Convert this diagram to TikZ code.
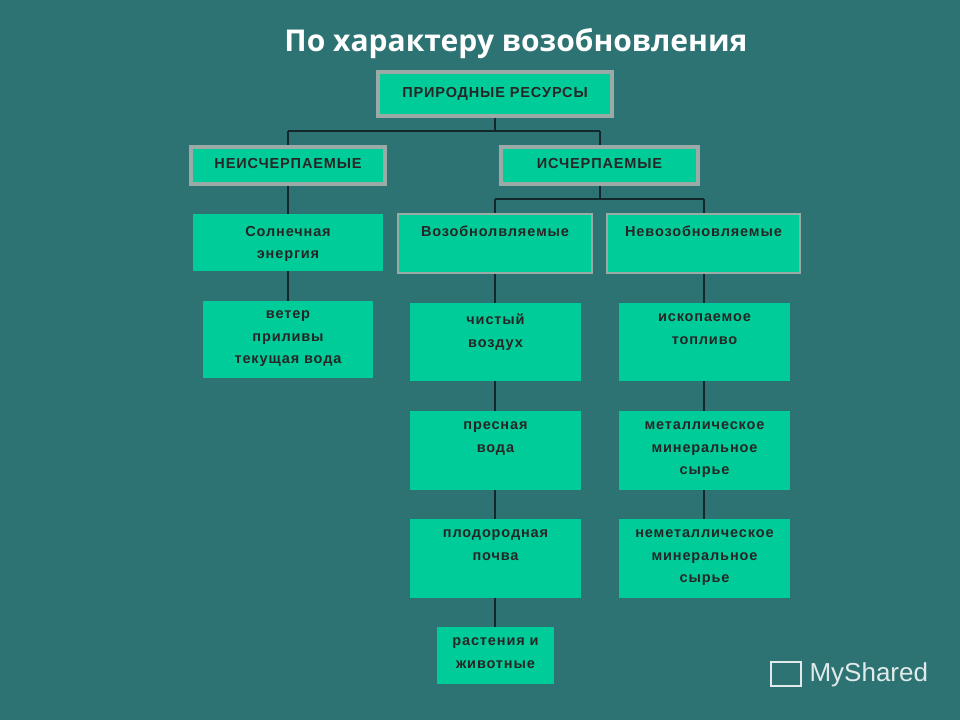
\documentclass[tikz,border=0pt]{standalone}
\usepackage{fontspec}
\setmainfont{Liberation Sans}[LetterSpace=6]
\newfontfamily\titlefont{Open Sans}
\definecolor{bg}{HTML}{2E7373}
\definecolor{boxc}{HTML}{00CC99}
\definecolor{frame}{HTML}{9AAAA6}
\definecolor{ln}{HTML}{13282C}
\begin{document}
\begin{tikzpicture}[x=1pt,y=-1pt,
  box/.style={fill=boxc,draw=none,inner sep=0pt},
  hbox/.style={box,draw=frame,line width=3.5pt},
  sbox/.style={box,draw=frame,line width=1.5pt},
  txt/.style={anchor=north,align=center,font=\bfseries\fontsize{14.5}{22.5}\selectfont,text=black!85,inner sep=0pt},
  conn/.style={draw=ln,line width=1.8pt}]
\fill[bg] (0,0) rectangle (960,720);
\useasboundingbox (0,0) rectangle (960,720);
\node[text=white,font=\titlefont\bfseries\fontsize{30}{32}\selectfont] (title) at (516,44) {По характеру возобновления};
\draw[conn] (495,116) -- (495,131) (288,131) -- (600,131) (288,131) -- (288,147) (600,131) -- (600,147);
\draw[conn] (288,184) -- (288,301);
\draw[conn] (600,184) -- (600,199) (495,199) -- (704,199) (495,199) -- (495,214) (704,199) -- (704,214);
\draw[conn] (495,273) -- (495,627);
\draw[conn] (704,273) -- (704,519);
\node[hbox,minimum width=234,minimum height=44] (root) at (495,94) {};
\node[hbox,minimum width=194,minimum height=37] (inex) at (288,165.5) {};
\node[hbox,minimum width=197,minimum height=37] (ex) at (599.5,165.5) {};
\node[box,minimum width=190,minimum height=57] (sun) at (288,242.5) {};
\node[sbox,minimum width=194,minimum height=59] (ren) at (495,243.5) {};
\node[sbox,minimum width=193,minimum height=59] (nren) at (703.5,243.5) {};
\node[box,minimum width=170,minimum height=77] (wind) at (288,339.5) {};
\node[box,minimum width=171,minimum height=78] (air) at (495.5,342) {};
\node[box,minimum width=171,minimum height=78] (fuel) at (704.5,342) {};
\node[box,minimum width=171,minimum height=79] (water) at (495.5,450.5) {};
\node[box,minimum width=171,minimum height=79] (metal) at (704.5,450.5) {};
\node[box,minimum width=171,minimum height=79] (soil) at (495.5,558.5) {};
\node[box,minimum width=171,minimum height=79] (nonmetal) at (704.5,558.5) {};
\node[box,minimum width=117,minimum height=57] (life) at (495.5,655.5) {};
\node[txt] at ([yshift=-17]root.north) {ПРИРОДНЫЕ РЕСУРСЫ};
\node[txt] at ([yshift=-13]inex.north) {НЕИСЧЕРПАЕМЫЕ};
\node[txt] at ([yshift=-13]ex.north) {ИСЧЕРПАЕМЫЕ};
\node[txt] at ([yshift=-12]sun.north) {Солнечная\\энергия};
\node[txt] at ([yshift=-12]ren.north) {Возобнолвляемые};
\node[txt] at ([yshift=-12]nren.north) {Невозобновляемые};
\node[txt] at ([yshift=-10]wind.north) {ветер\\приливы\\текущая вода};
\node[txt] at ([yshift=-11]air.north) {чистый\\воздух};
\node[txt] at ([yshift=-11]fuel.north) {ископаемое\\топливо};
\node[txt] at ([yshift=-11]water.north) {пресная\\вода};
\node[txt] at ([yshift=-11]metal.north) {металлическое\\минеральное\\сырье};
\node[txt] at ([yshift=-11]soil.north) {плодородная\\почва};
\node[txt] at ([yshift=-11]nonmetal.north) {неметаллическое\\минеральное\\сырье};
\node[txt] at ([yshift=-11]life.north) {растения и\\животные};
\node[text=white!85!bg,font=\addfontfeatures{LetterSpace=0}\fontsize{26}{28}\selectfont,anchor=west] (wm) at (806,675) {MyShared};
\draw[white!85!bg,line width=1.5pt] (771,662) rectangle (801,686);
\end{tikzpicture}
\end{document}
